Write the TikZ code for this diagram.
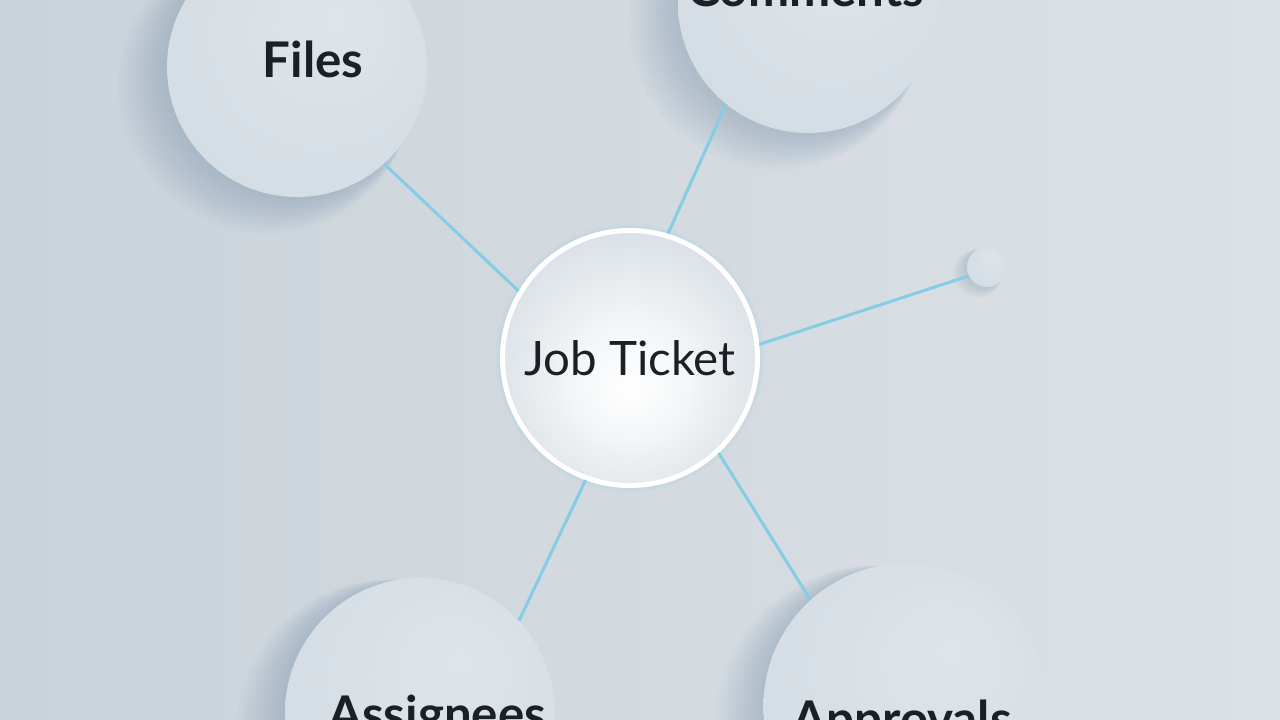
\documentclass[tikz,border=0pt]{standalone}
\usepackage{fontspec}
\setmainfont{Lato}
\usepackage{tikz}
\definecolor{bgleft}{HTML}{CAD3DA}
\definecolor{bgright}{HTML}{DCE1E5}
\definecolor{disc}{HTML}{D3DCE3}
\definecolor{disclight}{HTML}{DEE5EA}
\definecolor{discrim}{HTML}{C2D0DB}
\definecolor{shadowcol}{HTML}{6F8BA6}
\definecolor{hubedge}{HTML}{C1CCD5}
\definecolor{linkcol}{HTML}{84CDE5}
\definecolor{ink}{HTML}{1B2026}
\pgfdeclareradialshading{hubglow}{\pgfpoint{0bp}{-6bp}}{color(0bp)=(white); color(12bp)=(white!80!hubedge); color(30bp)=(white!35!hubedge); color(50bp)=(hubedge)}
\pgfdeclareradialshading{discshade}{\pgfpoint{8bp}{10bp}}{color(0bp)=(disclight); color(35bp)=(disc); color(50bp)=(discrim)}
\newcommand\softshadow[3]{
  \foreach \k in {1,...,12}
    \fill[shadowcol, opacity=0.035] (#1-\k*2.6, #2+\k*1.6) circle ({#3-4+\k*1.8});
}
\tikzset{
  topic/.style={circle, shading=discshade, inner sep=0pt},
  topiclabel/.style={anchor=base, text=ink, font=\bfseries\fontsize{28}{30}\selectfont},
  hub/.style={circle, draw=white, line width=1mm, shading=hubglow, inner sep=0pt,
    minimum size=51mm, text=ink, font=\fontsize{27}{30}\selectfont},
  link/.style={draw=linkcol, line width=0.6mm},
}
\begin{document}
\begin{tikzpicture}[x=0.2mm, y=-0.2mm]
  \useasboundingbox (0,0) rectangle (1280,720);
  \clip (0,0) rectangle (1280,720);
  \shade[left color=bgleft, right color=bgright] (0,0) rectangle (1280,720);

  \softshadow{297}{67}{130}
  \softshadow{808}{3}{130}
  \softshadow{420}{713}{135}
  \softshadow{906}{706}{142}
  \foreach \k in {1,...,6}
    \fill[shadowcol, opacity=0.06] (987-\k*1.5, 267+\k*1) circle ({18+\k*1});

  \node[topic, minimum size=52mm] (files) at (297,67) {};
  \node[topic, minimum size=52mm] (comments) at (808,3) {};
  \node[topic, minimum size=54mm] (assignees) at (420,713) {};
  \node[topic, minimum size=57mm] (approvals) at (906,706) {};
  \node[topic, minimum size=8mm] (dot) at (987,267) {};

  \node[topiclabel] (files-text) at (313,78) {Files};
  \node[topiclabel] (comments-text) at (806,7) {Comments};
  \node[topiclabel] (assignees-text) at (437,731) {Assignees};
  \node[topiclabel] (approvals-text) at (902,736) {Approvals};

  \foreach \k in {1,...,5}
    \draw[draw=linkcol, line width=\k*0.5mm, opacity=0.05] (630,358) circle (128);
  \node[hub] (ticket) at (630,358) {Job Ticket};

  \draw[link] (files.-48) -- (ticket.149);
  \draw[link] (comments.-129) -- (ticket.73);
  \draw[link] (ticket.6) -- (dot.206);
  \draw[link] (ticket.-110) -- (assignees.43);
  \draw[link] (ticket.-47) -- (approvals.132);
\end{tikzpicture}
\end{document}
